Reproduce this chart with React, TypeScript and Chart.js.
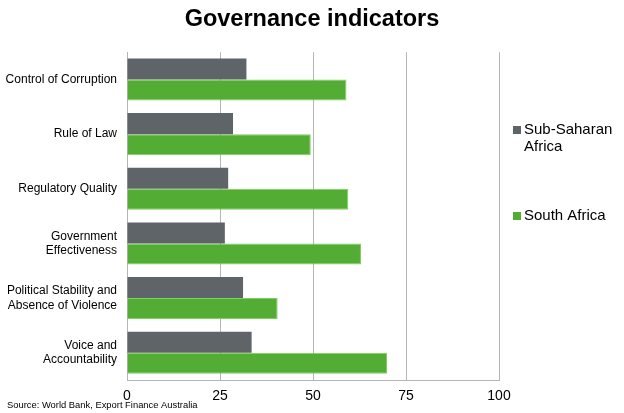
import React, { useEffect, useRef } from "react";
import { Chart, registerables } from "chart.js";

Chart.register(...registerables);

const categories: (string | string[])[] = [
  "Control of Corruption",
  "Rule of Law",
  "Regulatory Quality",
  ["Government", "Effectiveness"],
  ["Political Stability and", "Absence of Violence"],
  ["Voice and", "Accountability"],
];
const subSaharanAfrica = [32.1, 28.5, 27.2, 26.3, 31.2, 33.5];
const southAfrica = [59.0, 49.4, 59.5, 62.9, 40.5, 69.9];
const seriesNames = ["Sub-Saharan Africa", "South Africa"];
const xTicks = [0, 25, 50, 75, 100];
const titleText = "Governance indicators";
const sourceText = "Source: World Bank, Export Finance Australia";

const FONT = '"Liberation Sans", Arial, Helvetica, sans-serif';
const GREY = "#5e6467";
const GREEN = "#53ad34";
const GRID = "#b5b5b5";

function wrapText(ctx: CanvasRenderingContext2D, text: string, maxW: number): string[] {
  const words = text.split(" ");
  const lines: string[] = [];
  let cur = "";
  for (const w of words) {
    const t = cur ? cur + " " + w : w;
    if (ctx.measureText(t).width > maxW && cur) {
      lines.push(cur);
      cur = w;
    } else cur = t;
  }
  if (cur) lines.push(cur);
  return lines;
}

const extrasPlugin = {
  id: "extras",
  afterDraw(chart: any) {
    const ctx = chart.ctx as CanvasRenderingContext2D;
    ctx.save();
    // legend
    ctx.font = `15px ${FONT}`;
    ctx.textBaseline = "middle";
    ctx.textAlign = "left";
    const itemY = [130, 216];
    chart.data.datasets.forEach((ds: any, i: number) => {
      const y = itemY[i];
      ctx.fillStyle = ds.backgroundColor;
      ctx.fillRect(513, y - 4, 8, 8);
      ctx.fillStyle = "#000";
      const lines = wrapText(ctx, ds.label, 96);
      lines.forEach((ln, j) => ctx.fillText(ln, 524, y + j * 17));
    });
    // source
    ctx.font = `9.4px ${FONT}`;
    ctx.fillStyle = "#000";
    ctx.fillText(sourceText, 7, 405);
    ctx.restore();
  },
};

export default function App() {
  const ref = useRef<HTMLCanvasElement>(null);
  useEffect(() => {
    if (!ref.current) return;
    const chart = new Chart(ref.current, {
      type: "bar",
      data: {
        labels: categories,
        datasets: [
          {
            label: seriesNames[0],
            data: subSaharanAfrica,
            backgroundColor: GREY,
            borderWidth: 0,
          },
          {
            label: seriesNames[1],
            data: southAfrica,
            backgroundColor: GREEN,
            borderColor: "#7fd05c",
            borderWidth: 1,
          },
        ],
      },
      options: {
        indexAxis: "y",
        animation: false,
        responsive: true,
        maintainAspectRatio: false,
        datasets: { bar: { categoryPercentage: 0.77, barPercentage: 1.0 } },
        layout: { padding: { left: 0, right: 0, top: 0, bottom: 0 } },
        plugins: {
          legend: { display: false },
          tooltip: { enabled: false },
          title: {
            display: true,
            text: titleText,
            color: "#000",
            font: { family: FONT, size: 23.5, weight: "bold" },
            padding: { top: 5, bottom: 19 },
          },
        },
        scales: {
          x: {
            type: "linear",
            min: 0,
            max: 100,
            afterBuildTicks: (scale: any) => {
              scale.ticks = xTicks.map((v) => ({ value: v }));
            },
            afterFit: (scale: any) => {
              scale.height = 33;
            },
            ticks: {
              color: "#000",
              font: { family: FONT, size: 14 },
              padding: 8,
            },
            grid: { color: GRID, lineWidth: 1, drawTicks: false },
            border: { display: true, color: GRID, width: 1 },
          },
          y: {
            type: "category",
            afterFit: (scale: any) => {
              scale.width = 127;
            },
            ticks: {
              color: "#000",
              font: { family: FONT, size: 12 },
              padding: 10,
            },
            grid: { display: false, drawTicks: false },
            border: { display: true, color: GRID, width: 1 },
          },
          legendSpace: {
            type: "linear",
            position: "right",
            display: true,
            afterFit: (scale: any) => {
              scale.width = 125;
            },
            ticks: { display: false },
            grid: { display: false, drawTicks: false },
            border: { display: false },
          },
        },
      },
      plugins: [extrasPlugin],
    } as any);
    return () => chart.destroy();
  }, []);
  return (
    <div style={{ position: "fixed", left: 0, top: 0, width: 624, height: 413, background: "#fff" }}>
      <canvas ref={ref} />
    </div>
  );
}
